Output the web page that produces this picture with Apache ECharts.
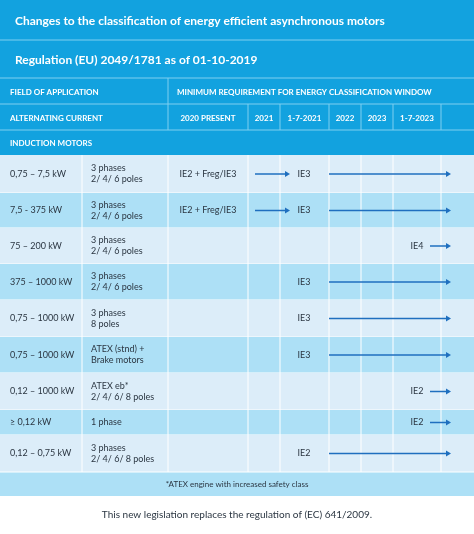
<!DOCTYPE html>
<html><head><meta charset="utf-8">
<script src="https://cdn.jsdelivr.net/npm/echarts@6/dist/echarts.min.js"></script>
<style>html,body{margin:0;padding:0;background:#fff}#c{width:474px;height:534px}</style>
</head><body><div id="c"></div>
<script>
const title = "Changes to the classification of energy efficient asynchronous motors";
const subtitle = "Regulation (EU) 2049/1781 as of 01-10-2019";
const headerLeft = "FIELD OF APPLICATION";
const headerRight = "MINIMUM REQUIREMENT FOR ENERGY CLASSIFICATION WINDOW";
const subHeaderLeft = "ALTERNATING CURRENT";
const periods = ["2020 PRESENT", "2021", "1-7-2021", "2022", "2023", "1-7-2023"];
const groupLabel = "INDUCTION MOTORS";
const powers = ["0,75 – 7,5 kW", "7,5 - 375 kW", "75 – 200 kW", "375 – 1000 kW", "0,75 – 1000 kW", "0,75 – 1000 kW", "0,12 – 1000 kW", "≥ 0,12 kW", "0,12 – 0,75 kW"];
const types = [["3 phases","2/ 4/ 6 poles"],["3 phases","2/ 4/ 6 poles"],["3 phases","2/ 4/ 6 poles"],["3 phases","2/ 4/ 6 poles"],["3 phases","8 poles"],["ATEX (stnd) +","Brake motors"],["ATEX eb*","2/ 4/ 6/ 8 poles"],["1 phase"],["3 phases","2/ 4/ 6/ 8 poles"]];
const present = ["IE2 + Freg/IE3","IE2 + Freg/IE3","","","","","","",""];
const classes = ["IE3","IE3","IE4","IE3","IE3","IE3","IE2","IE2","IE2"];
const classFrom = ["1-7-2021","1-7-2021","1-7-2023","1-7-2021","1-7-2021","1-7-2021","1-7-2023","1-7-2023","1-7-2021"];
const footnote = "*ATEX engine with increased safety class";
const note = "This new legislation replaces the regulation of (EC) 641/2009.";

// layout
const colX = [0, 82, 168, 248, 280, 329, 361, 393, 441, 474];
const rowY = [155, 193, 228, 264, 300, 337, 373, 410, 435, 472];
const BLUE = "#12a2df", LIGHT = "#dcedf9", MID = "#ade0f6", LINE = "#ffffff", TXT = "#2b3642", ARR = "#1f6fbf";
const F = "Lato, 'Open Sans', sans-serif";

const chart = echarts.init(document.getElementById('c'), null, {renderer:'canvas'});
function txt(x,y,s,o){return Object.assign({type:'text',x:x,y:y,style:Object.assign({text:s,fill:'#fff',font:'bold 8px '+F,textVerticalAlign:'middle'},o||{})});}
const g = [];
g.push({type:'rect',shape:{x:0,y:0,width:474,height:155},style:{fill:BLUE}});
g.push({type:'line',shape:{x1:0,y1:40,x2:474,y2:40},style:{stroke:'#7fcff0',lineWidth:1}});
g.push({type:'line',shape:{x1:0,y1:78,x2:474,y2:78},style:{stroke:'#7fcff0',lineWidth:1}});
g.push({type:'line',shape:{x1:0,y1:104,x2:474,y2:104},style:{stroke:'#7fcff0',lineWidth:1}});
g.push({type:'line',shape:{x1:0,y1:130,x2:474,y2:130},style:{stroke:'#7fcff0',lineWidth:1}});
g.push({type:'line',shape:{x1:168,y1:78,x2:168,y2:130},style:{stroke:'#7fcff0',lineWidth:1}});
for (let i=3;i<=8;i++) g.push({type:'line',shape:{x1:colX[i],y1:104,x2:colX[i],y2:130},style:{stroke:'#7fcff0',lineWidth:1}});
g.push(txt(15,21,title,{font:'bold 12px '+F}));
g.push(txt(15,60,subtitle,{font:'bold 12px '+F}));
g.push(txt(10,92,headerLeft));
g.push(txt(177,92,headerRight));
g.push(txt(10,118,subHeaderLeft));
periods.forEach((p,i)=>g.push(txt((colX[i+2]+colX[i+3])/2,118,p,{textAlign:'center'})));
g.push(txt(10,143,groupLabel));
g.push({type:'rect',shape:{x:0,y:472,width:474,height:24},style:{fill:MID}});
g.push(txt(237,484,footnote,{textAlign:'center',fill:TXT,font:'8px '+F}));
g.push(txt(237,515,note,{textAlign:'center',fill:TXT,font:'10px '+F}));

chart.setOption({
  animation:false,
  grid:{left:0,right:0,top:0,bottom:0},
  xAxis:{type:'value',min:0,max:474,show:false},
  yAxis:{type:'value',min:0,max:534,inverse:true,show:false},
  graphic:g,
  series:[{
    type:'custom',
    data: powers.map((p,i)=>[i]),
    renderItem:function(params, api){
      const i = api.value(0);
      const y0 = rowY[i], y1 = rowY[i+1];
      const p0 = api.coord([0,y0]), p1 = api.coord([474,y1]);
      const cy = (p0[1]+p1[1])/2;
      const X = v=>api.coord([v,0])[0];
      const ch = [];
      ch.push({type:'rect',shape:{x:p0[0],y:p0[1],width:p1[0]-p0[0],height:p1[1]-p0[1]},style:{fill:i%2?MID:LIGHT}});
      ch.push({type:'line',shape:{x1:p0[0],y1:p1[1],x2:p1[0],y2:p1[1]},style:{stroke:LINE,lineWidth:1}});
      for (let k=1;k<colX.length-1;k++) ch.push({type:'line',shape:{x1:X(colX[k]),y1:p0[1],x2:X(colX[k]),y2:p1[1]},style:{stroke:LINE,lineWidth:1}});
      const ts = {fill:TXT,font:'9px '+F,textVerticalAlign:'middle'};
      ch.push({type:'text',x:X(10),y:cy,style:Object.assign({text:powers[i]},ts)});
      const t = types[i];
      if (t.length===1) ch.push({type:'text',x:X(91),y:cy,style:Object.assign({text:t[0]},ts)});
      else { ch.push({type:'text',x:X(91),y:cy-5.5,style:Object.assign({text:t[0]},ts)});
             ch.push({type:'text',x:X(91),y:cy+5.5,style:Object.assign({text:t[1]},ts)}); }
      const ah = (x1,x2)=>{ ch.push({type:'line',shape:{x1:X(x1),y1:cy,x2:X(x2)-4,y2:cy},style:{stroke:ARR,lineWidth:1.5}});
        ch.push({type:'polygon',shape:{points:[[X(x2)-5,cy-3],[X(x2),cy],[X(x2)-5,cy+3]]},style:{fill:ARR}}); };
      if (present[i]) { ch.push({type:'text',x:X(208),y:cy,style:Object.assign({text:present[i],textAlign:'center'},ts)}); ah(255,290); }
      const late = classFrom[i]==="1-7-2023";
      const lx = late ? 417 : 304;
      ch.push({type:'text',x:X(lx),y:cy,style:Object.assign({text:classes[i],textAlign:'center'},ts)});
      if (late) ah(430,451); else ah(329,451);
      return {type:'group',children:ch};
    }
  }]
});
</script></body></html>
